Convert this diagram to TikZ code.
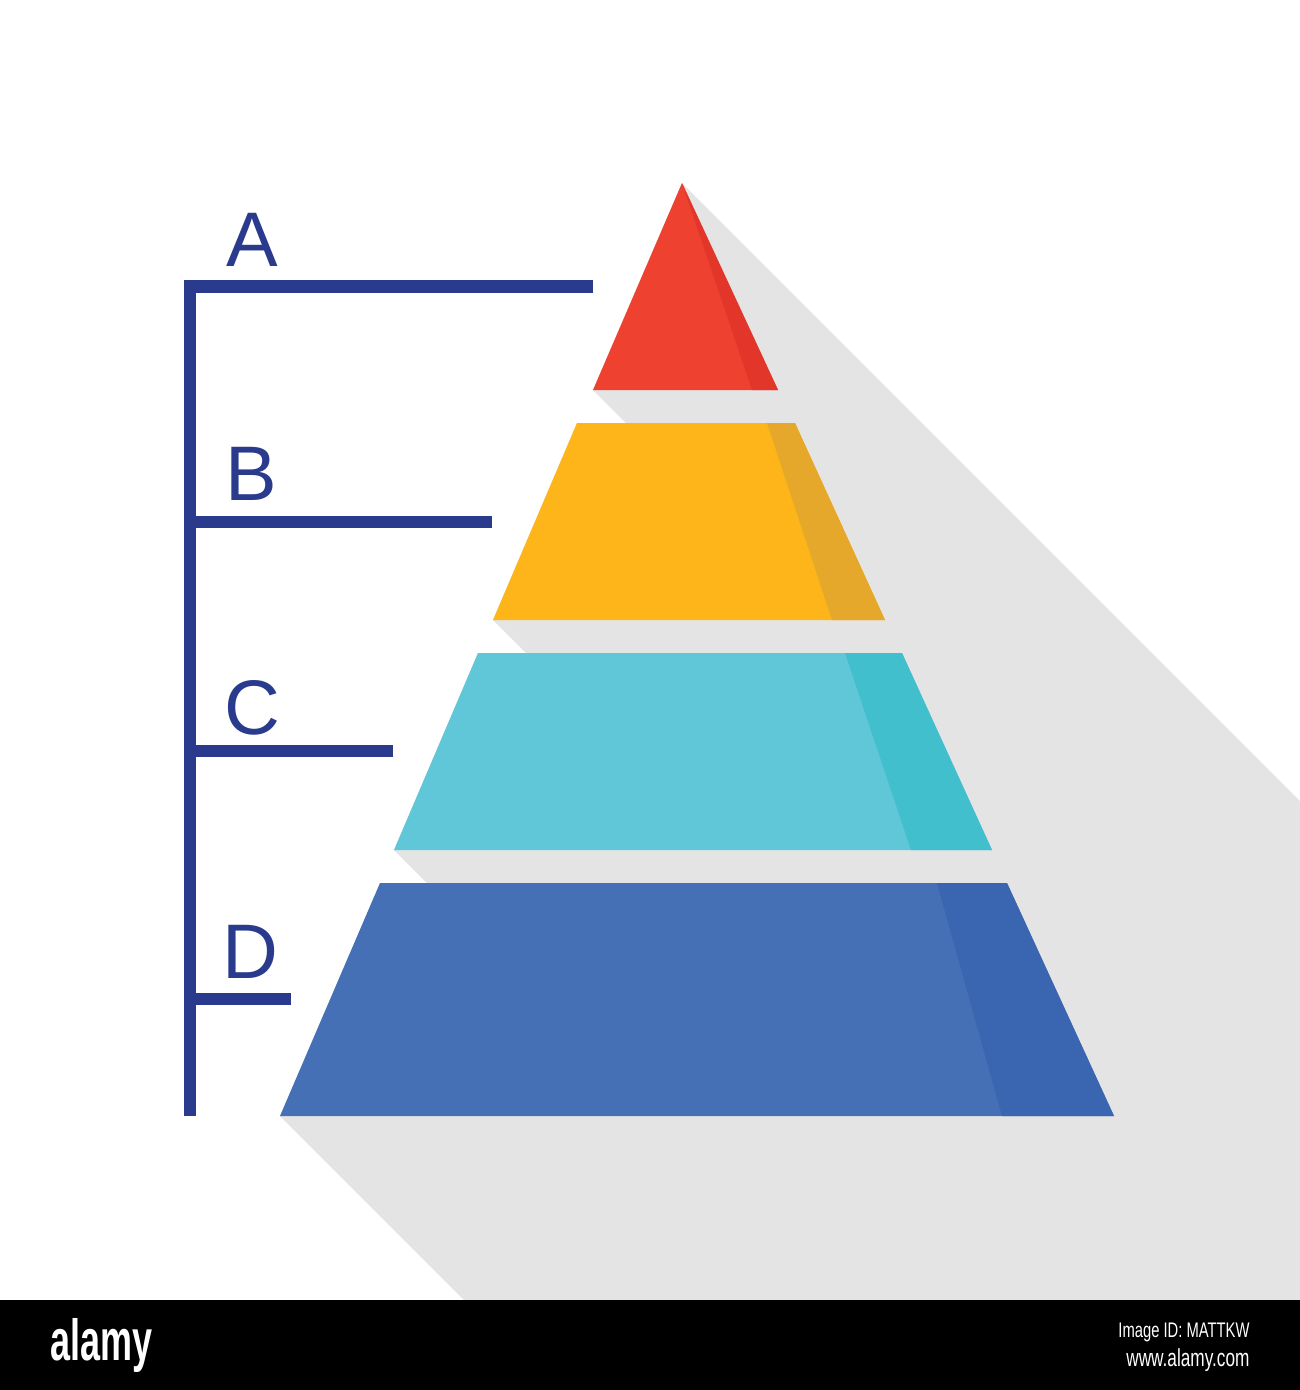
\documentclass[tikz,border=0pt]{standalone}
\usepackage{fontspec}
\setmainfont{Liberation Sans}
\usetikzlibrary{positioning}
\definecolor{navy}{HTML}{2A3B8D}
\definecolor{shadowgray}{HTML}{E4E4E4}
\definecolor{redFace}{HTML}{EF412F}
\definecolor{redSide}{HTML}{E2362A}
\definecolor{yellowFace}{HTML}{FDB519}
\definecolor{yellowSide}{HTML}{E5A82A}
\definecolor{cyanFace}{HTML}{5FC7D7}
\definecolor{cyanSide}{HTML}{42BFCD}
\definecolor{blueFace}{HTML}{4570B6}
\definecolor{blueSide}{HTML}{3A66B1}
\tikzset{
    bracket/.style={navy, line width=3.6pt, line join=miter}, % the level bracket
    tag/.style={text=navy, inner sep=0pt, font=\fontsize{22}{22}\selectfont}, % level letters
    footer/.style={text=white, inner sep=0pt} % text on the black strip
}

\begin{document}
\begin{tikzpicture}[x=0.01cm, y=-0.01cm]
    \useasboundingbox (0,0) rectangle (1300,1390);
    % name / top y / bottom y / top left / top right / bottom right / bottom left / side top / side bottom
    \def\layers{red/183/390/682/682/778/593/682/752,
        yellow/423/620/577/795/885/493/767/832,
        cyan/653/850/478/902/992/394/845/911,
        blue/883/1116/380/1007/1114/280/937/1002}

    \begin{scope}
        \clip (0,0) rectangle (1300,1300);
        \foreach \name/\yt/\yb/\xtl/\xtr/\xbr/\xbl/\xst/\xsb in \layers
            \fill[shadowgray] (\xtl,\yt) -- (\xtr,\yt) -- (\xtr+1500,\yt+1500) -- (\xbl+1500,\yb+1500) -- (\xbl,\yb) -- cycle;
    \end{scope}

    \foreach \name/\yt/\yb/\xtl/\xtr/\xbr/\xbl/\xst/\xsb in \layers {
        \fill[\name Face] (\xtl,\yt) -- (\xtr,\yt) -- (\xbr,\yb) -- (\xbl,\yb) -- cycle;
        \fill[\name Side] (\xst,\yt) -- (\xtr,\yt) -- (\xbr,\yb) -- (\xsb,\yb) -- cycle;
    }

    \coordinate (spine bottom) at (190,1116);
    \coordinate (spine top) at (190,286.5);
    \coordinate (tickA) at (593,286.5);
    \draw[bracket] (spine bottom) -- (spine top) -- (tickA);
    \foreach \lvl/\y/\xe in {B/522/492, C/751/393, D/999/291} {
        \coordinate (root\lvl) at (190,\y);
        \coordinate (tick\lvl) at (\xe,\y);
        \draw[bracket] (root\lvl) -- (tick\lvl);
    }
    \foreach \lvl/\x/\y in {A/252/240, B/251/474, C/252/708, D/250/952}
        \node[tag] (label\lvl) at (\x,\y) {\lvl};

    \fill[black] (0,1300) rectangle (1300,1390);
    \node[footer, anchor=base west, xscale=0.62, font=\bfseries\fontsize{16.5}{16.5}\selectfont] (brand) at (50,1360) {alamy};
    \node[footer, anchor=east, xscale=0.7, font=\fontsize{6}{6}\selectfont] (imageid) at (1250,1332) {Image ID: MATTKW};
    \node[footer, anchor=east, xscale=0.7, font=\fontsize{7}{7}\selectfont] (website) at (1250,1360) {www.alamy.com};
\end{tikzpicture}
\end{document}
